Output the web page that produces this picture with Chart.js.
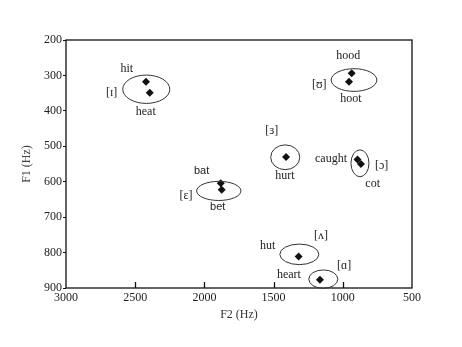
<!DOCTYPE html>
<html>
<head>
<meta charset="utf-8">
<script src="https://cdn.jsdelivr.net/npm/chart.js@4"></script>
<style>
  html, body { margin: 0; padding: 0; background: #fff; }
  #wrap { width: 462px; height: 347px; }
</style>
</head>
<body>
<div id="wrap"><canvas id="chart1"></canvas></div>
<script>
// vowel tokens: word, F2 (Hz), F1 (Hz)
var words = ['hit', 'heat', 'hood', 'hoot', 'hurt', 'caught', 'cot', 'bat', 'bet', 'hut', 'heart'];
var f2 = [2422, 2395, 936, 955, 1410, 894, 869, 1882, 1875, 1319, 1165];
var f1 = [318, 349, 294, 318, 530, 537, 550, 604, 623, 811, 877];

// vowel categories
var vowels = ['[ɪ]', '[ʊ]', '[ɜ]', '[ɔ]', '[ɛ]', '[ʌ]', '[ɑ]'];

var xTicks = [3000, 2500, 2000, 1500, 1000, 500];
var yTicks = [200, 300, 400, 500, 600, 700, 800, 900];

// ellipses drawn around each vowel group (data units)
var rings = [
  { f2: 2420, f1: 339, r2: 170, r1: 40 },
  { f2: 919, f1: 313, r2: 165, r1: 32 },
  { f2: 1416, f1: 531, r2: 105, r1: 35 },
  { f2: 876, f1: 548, r2: 65, r1: 38 },
  { f2: 1896, f1: 626, r2: 160, r1: 27 },
  { f2: 1314, f1: 805, r2: 141, r1: 29 },
  { f2: 1141, f1: 875, r2: 105, r1: 26 }
];

// where the text goes (data units)
var notes = [
  { t: 'hit', f2: 2561, f1: 282 },
  { t: 'heat', f2: 2424, f1: 402 },
  { t: vowels[0], f2: 2670, f1: 348 },
  { t: 'hood', f2: 960, f1: 244 },
  { t: 'hoot', f2: 941, f1: 367 },
  { t: vowels[1], f2: 1170, f1: 327 },
  { t: vowels[2], f2: 1514, f1: 457 },
  { t: 'hurt', f2: 1418, f1: 584 },
  { t: 'caught', f2: 1085, f1: 536 },
  { t: vowels[3], f2: 719, f1: 556 },
  { t: 'cot', f2: 784, f1: 607 },
  { t: 'bat', f2: 2020, f1: 569, sans: true },
  { t: vowels[4], f2: 2133, f1: 639 },
  { t: 'bet', f2: 1904, f1: 670, sans: true },
  { t: 'hut', f2: 1543, f1: 781 },
  { t: vowels[5], f2: 1158, f1: 752 },
  { t: 'heart', f2: 1389, f1: 863 },
  { t: vowels[6], f2: 991, f1: 838 }
];

var points = words.map(function(w, i) { return { x: f2[i], y: f1[i] }; });

var extras = {
  id: 'extras',
  afterDatasetsDraw: function(chart) {
    var ctx = chart.ctx;
    var xs = chart.scales.x, ys = chart.scales.y;
    var a = chart.chartArea;
    ctx.save();

    // frame
    ctx.strokeStyle = '#111';
    ctx.lineWidth = 1.3;
    ctx.strokeRect(a.left, a.top, a.right - a.left, a.bottom - a.top);

    // inward ticks on F2 axis
    ctx.beginPath();
    xTicks.slice(1, -1).forEach(function(v) {
      var px = Math.round(xs.getPixelForValue(v)) + 0.5;
      ctx.moveTo(px, a.bottom);
      ctx.lineTo(px, a.bottom - 6);
    });
    ctx.stroke();

    // ellipses
    ctx.strokeStyle = '#333';
    ctx.lineWidth = 1;
    rings.forEach(function(r) {
      var cx = xs.getPixelForValue(r.f2), cy = ys.getPixelForValue(r.f1);
      var rx = Math.abs(xs.getPixelForValue(r.f2 + r.r2) - cx);
      var ry = Math.abs(ys.getPixelForValue(r.f1 + r.r1) - cy);
      ctx.beginPath();
      ctx.ellipse(cx, cy, rx, ry, 0, 0, Math.PI * 2);
      ctx.stroke();
    });

    // labels
    ctx.fillStyle = '#222';
    ctx.textAlign = 'center';
    ctx.textBaseline = 'middle';
    notes.forEach(function(n) {
      ctx.font = n.sans ? '11px "Liberation Sans"' : '12px "Liberation Serif"';
      ctx.fillText(n.t, xs.getPixelForValue(n.f2), ys.getPixelForValue(n.f1));
    });
    ctx.restore();
  }
};

var ctx = document.getElementById('chart1').getContext('2d');
var myChart = new Chart(ctx, {
  type: 'scatter',
  data: {
    datasets: [{
      label: 'vowels',
      data: points,
      pointStyle: 'rectRot',
      pointRadius: 4,
      backgroundColor: '#111',
      borderColor: '#111',
      borderWidth: 0
    }]
  },
  options: {
    responsive: true,
    maintainAspectRatio: false,
    animation: false,
    layout: { padding: { left: 0, top: 40, right: 50, bottom: 0 } },
    plugins: {
      legend: { display: false },
      tooltip: { enabled: false }
    },
    scales: {
      x: {
        type: 'linear',
        reverse: true,
        min: 500,
        max: 3000,
        afterBuildTicks: function(s) { s.ticks = xTicks.map(function(v) { return { value: v }; }); },
        afterFit: function(s) { s.height = 59; },
        grid: { display: false, drawTicks: false },
        border: { display: false },
        ticks: {
          color: '#222', padding: 3, maxRotation: 0,
          font: { family: 'Liberation Serif', size: 12 },
          callback: function(v) { return String(v); }
        },
        title: { display: true, text: 'F2 (Hz)', color: '#333', padding: { top: 4, bottom: 25 }, font: { family: 'Liberation Serif', size: 12 } }
      },
      y: {
        type: 'linear',
        reverse: true,
        min: 200,
        max: 900,
        afterBuildTicks: function(s) { s.ticks = yTicks.map(function(v) { return { value: v }; }); },
        afterFit: function(s) { s.width = 66; },
        grid: { drawOnChartArea: false, drawTicks: true, tickLength: 3, color: '#111' },
        border: { display: false },
        ticks: {
          color: '#222', padding: 1,
          font: { family: 'Liberation Serif', size: 12 },
          callback: function(v) { return String(v); }
        },
        title: { display: true, text: 'F1 (Hz)', color: '#444', padding: { top: 20, bottom: 4 }, font: { family: 'Liberation Serif', size: 12 } }
      }
    }
  },
  plugins: [extras]
});
</script>
</body>
</html>
